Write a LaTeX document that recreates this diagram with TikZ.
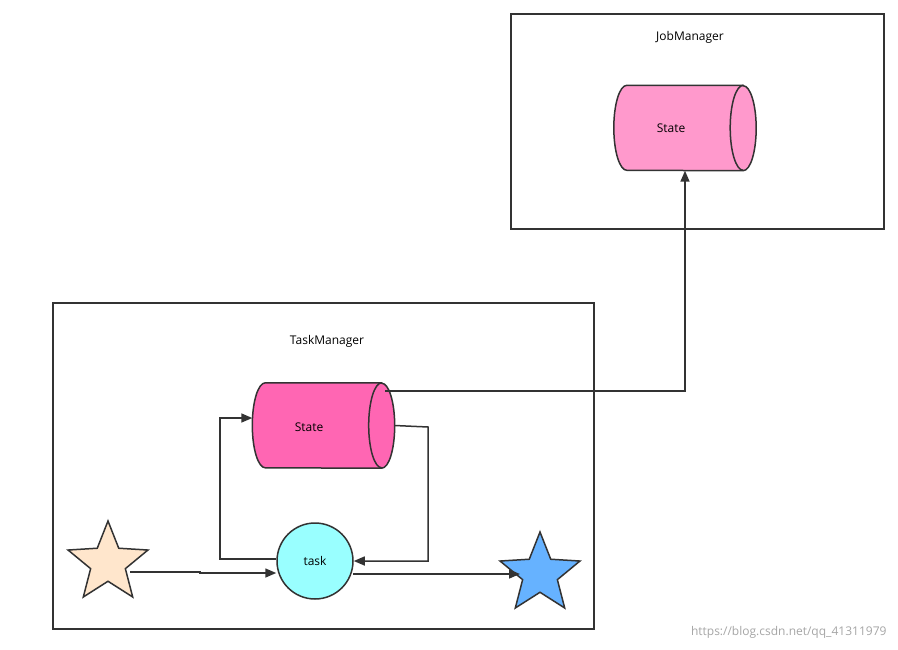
\documentclass[tikz,border=0pt]{standalone}
\usepackage{fontspec}
\setmainfont{Open Sans}
\usetikzlibrary{shapes.geometric,arrows.meta}
\definecolor{ln}{HTML}{333333}
\definecolor{pk1}{HTML}{FF99CC}
\definecolor{pk2}{HTML}{FF66B3}
\definecolor{cy}{HTML}{99FFFF}
\definecolor{peach}{HTML}{FFE6CC}
\definecolor{bl}{HTML}{66B2FF}
\newcommand\mycyl[4]{% name, x, y, color
  \node[minimum width=142pt,minimum height=85pt,inner sep=0pt] (#1) at (#2,#3) {};
  \filldraw[fill=#4,draw=ln,line width=1.5pt] ([xshift=-13pt]#1.north east) -- ([xshift=13pt]#1.north west)
     arc[start angle=90,end angle=270,x radius=13pt,y radius=42.5pt] -- ([xshift=-13pt]#1.south east)
     arc[start angle=-90,end angle=90,x radius=13pt,y radius=42.5pt] -- cycle;
  \draw[draw=ln,line width=1.5pt] ([xshift=-13pt]#1.north east) arc[start angle=90,end angle=270,x radius=13pt,y radius=42.5pt];
}
\begin{document}
\begin{tikzpicture}[x=1pt,y=-1pt,
  box/.style={draw=ln,line width=1.5pt},
  star5/.style={star,star points=5,star point ratio=2.3,draw=ln,line width=1.5pt,minimum size=84pt,inner sep=0pt},
  conn/.style={draw=ln,line width=1.5pt,-{Triangle[length=11pt,width=9pt]}},
  lbl/.style={font=\fontsize{12}{14}\selectfont}]
\useasboundingbox (0,0) rectangle (898,649);
\fill[white] (0,0) rectangle (898,649);
\draw[box] (511,14) rectangle (884,229);
\node[lbl] (jml) at (690,37) {JobManager};
\draw[box] (53,303) rectangle (594,629);
\node[lbl] (tml) at (327,341) {TaskManager};
\mycyl{js}{685}{128}{pk1}
\node[lbl] at (671,128) {State};
\mycyl{ts}{323.5}{425.5}{pk2}
\node[lbl] at (309,427) {State};
\node[circle,draw=ln,line width=1.5pt,fill=cy,minimum size=76pt,inner sep=0pt,lbl] (task) at (315,561) {task};
\node[star5,fill=peach] (s1) at (108,563) {};
\node[star5,fill=bl] (s2) at (540,574) {};
\coordinate (a1) at (385,391);
\draw[conn] (a1) -- (685,391) -- (js.south);
\draw[conn] (task.west |- 0,559) -- (220,559) -- (220,418) -- (ts.west |- 0,418);
\draw[conn] (ts.east) -- (428,427) -- (428,561) -- (task.east |- 0,561);
\draw[conn] (130,572) -- (200,572) -- (200,573) -- (task.west |- 0,573);
\draw[conn] (353,574) -- (520,574);
\node[text=gray!70,font=\fontsize{12}{14}\selectfont,anchor=east] at (890,632) {https://blog.csdn.net/qq\_41311979};
\end{tikzpicture}
\end{document}
